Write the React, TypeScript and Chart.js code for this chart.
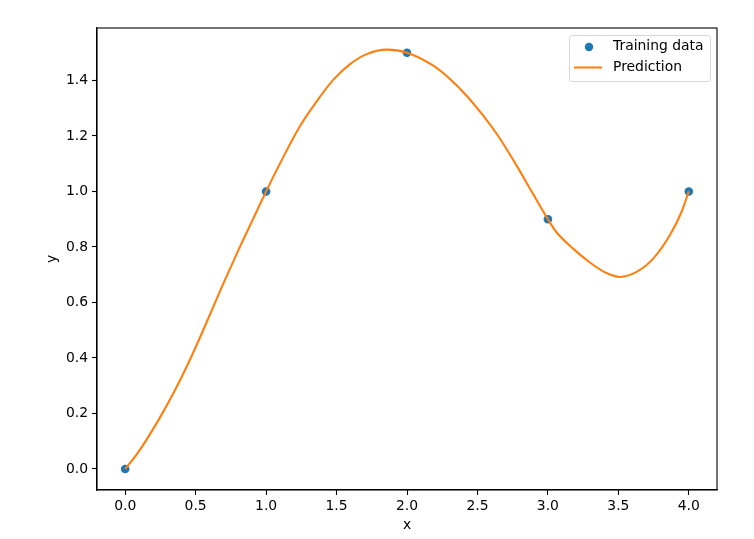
import React, { useEffect, useRef } from "react";
import { Chart, registerables } from "chart.js";

Chart.register(...registerables);

const trainX = [0, 1, 2, 3, 4];
const trainY = [0, 1, 1.5, 0.9, 1];

const predX = [0, 0.087, 0.236, 0.366, 0.48, 0.584, 0.686, 0.792, 0.903, 1, 1.128, 1.241, 1.359, 1.478, 1.596, 1.714, 1.856, 2, 2.187, 2.305, 2.423, 2.541, 2.66, 2.778, 2.896, 3, 3.061, 3.179, 3.298, 3.416, 3.511, 3.629, 3.747, 3.865, 3.948, 4];
const predY = [0, 0.056, 0.176, 0.296, 0.416, 0.536, 0.656, 0.776, 0.896, 1, 1.13, 1.236, 1.325, 1.403, 1.459, 1.495, 1.511, 1.5, 1.453, 1.405, 1.345, 1.273, 1.19, 1.093, 0.99, 0.9, 0.853, 0.794, 0.744, 0.706, 0.692, 0.71, 0.758, 0.842, 0.926, 1];

const xTicks = [0, 0.5, 1, 1.5, 2, 2.5, 3, 3.5, 4];
const yTicks = [0, 0.2, 0.4, 0.6, 0.8, 1.0, 1.2, 1.4];

const legendLabels = ["Training data", "Prediction"];
const xLabel = "x";
const yLabel = "y";

const FONT = "DejaVu Sans";
const FS = 13.9;
const BLUE = "#1f77b4";
const ORANGE = "#ff7f0e";

export default function App() {
  const ref = useRef<HTMLCanvasElement | null>(null);

  useEffect(() => {
    document.body.style.margin = "0";
    const canvas = ref.current!;
    const framePlugin = {
      id: "frame",
      afterDraw(chart: any) {
        const ctx = chart.ctx;
        const a = chart.chartArea;
        ctx.save();
        ctx.strokeStyle = "#000";
        ctx.lineWidth = 1.1;
        ctx.strokeRect(a.left, a.top, a.right - a.left, a.bottom - a.top);
        // axis titles
        ctx.fillStyle = "#000";
        ctx.font = `${FS}px "${FONT}"`;
        ctx.textAlign = "center";
        ctx.textBaseline = "middle";
        ctx.fillText(xLabel, (a.left + a.right) / 2, 525);
        ctx.save();
        ctx.translate(52, (a.top + a.bottom) / 2);
        ctx.rotate(-Math.PI / 2);
        ctx.fillText(yLabel, 0, 0);
        ctx.restore();
        // legend
        const bx = 569.5, by = 35.5, bw = 141, bh = 46, r = 2.8;
        ctx.beginPath();
        ctx.moveTo(bx + r, by);
        ctx.lineTo(bx + bw - r, by);
        ctx.arcTo(bx + bw, by, bx + bw, by + r, r);
        ctx.lineTo(bx + bw, by + bh - r);
        ctx.arcTo(bx + bw, by + bh, bx + bw - r, by + bh, r);
        ctx.lineTo(bx + r, by + bh);
        ctx.arcTo(bx, by + bh, bx, by + bh - r, r);
        ctx.lineTo(bx, by + r);
        ctx.arcTo(bx, by, bx + r, by, r);
        ctx.closePath();
        ctx.fillStyle = "rgba(255,255,255,0.8)";
        ctx.fill();
        ctx.strokeStyle = "#d6d6d6";
        ctx.lineWidth = 1;
        ctx.stroke();
        ctx.fillStyle = BLUE;
        ctx.beginPath();
        ctx.arc(589, 47, 4.2, 0, Math.PI * 2);
        ctx.fill();
        ctx.strokeStyle = ORANGE;
        ctx.lineWidth = 2.08;
        ctx.beginPath();
        ctx.moveTo(574, 67.5);
        ctx.lineTo(602, 67.5);
        ctx.stroke();
        ctx.fillStyle = "#000";
        ctx.textAlign = "left";
        ctx.fillText(legendLabels[0], 613, 46);
        ctx.fillText(legendLabels[1], 613, 67);
        ctx.restore();
      },
    };

    const chart = new Chart(canvas, {
      type: "scatter",
      data: {
        datasets: [
          {
            label: legendLabels[1],
            data: predX.map((x, i) => ({ x, y: predY[i] })),
            showLine: true,
            borderColor: ORANGE,
            borderWidth: 2.08,
            pointRadius: 0,
            cubicInterpolationMode: "monotone",
            order: 0,
          } as any,
          {
            label: legendLabels[0],
            data: trainX.map((x, i) => ({ x, y: trainY[i] })),
            backgroundColor: BLUE,
            borderWidth: 0,
            pointRadius: 4.3,
            order: 1,
          },
        ],
      },
      options: {
        animation: false,
        responsive: false,
        layout: { padding: { top: 28, right: 37, left: 0, bottom: 0 } },
        plugins: { legend: { display: false }, tooltip: { enabled: false } },
        scales: {
          x: {
            type: "linear",
            min: -0.2,
            max: 4.2,
            afterFit: (s: any) => { s.height = 49; },
            afterBuildTicks: (s: any) => { s.ticks = xTicks.map((v) => ({ value: v })); },
            grid: { drawOnChartArea: false, drawTicks: true, tickLength: 5, tickColor: "#000", tickWidth: 1.1 },
            border: { display: true, color: "#000", width: 1.1 },
            ticks: {
              color: "#000",
              padding: 3,
              maxRotation: 0,
              autoSkip: false,
              font: { family: FONT, size: FS },
              callback: (v: any) => Number(v).toFixed(1),
            },
          },
          y: {
            type: "linear",
            min: -0.0757,
            max: 1.589,
            afterFit: (s: any) => { s.width = 97; },
            afterBuildTicks: (s: any) => { s.ticks = yTicks.map((v) => ({ value: v })); },
            grid: { drawOnChartArea: false, drawTicks: true, tickLength: 5, tickColor: "#000", tickWidth: 1.1 },
            border: { display: true, color: "#000", width: 1.1 },
            ticks: {
              color: "#000",
              padding: 4,
              autoSkip: false,
              font: { family: FONT, size: FS },
              callback: (v: any) => Number(v).toFixed(1),
            },
          },
        },
      } as any,
      plugins: [framePlugin],
    });
    return () => chart.destroy();
  }, []);

  return (
    <div style={{ position: "absolute", left: 0, top: 0, width: 754, height: 539, background: "#fff" }}>
      <canvas ref={ref} width={754} height={539} style={{ width: 754, height: 539, display: "block" }} />
    </div>
  );
}
